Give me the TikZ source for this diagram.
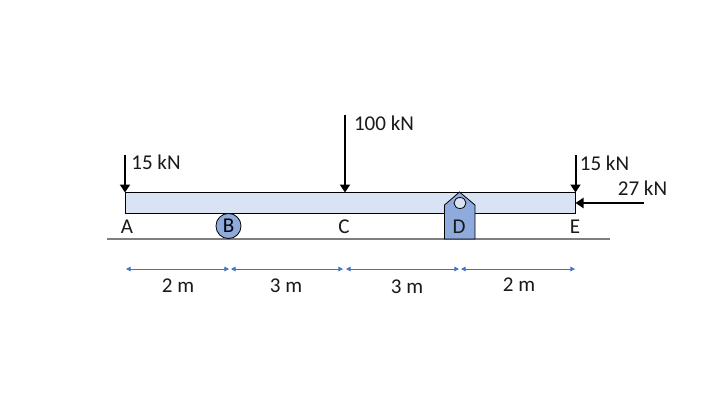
\documentclass[tikz,border=0pt]{standalone}
\usepackage{fontspec}
\setmainfont{Carlito}
\usetikzlibrary{arrows.meta}
\definecolor{beamfill}{HTML}{DAE3F3}
\definecolor{suppfill}{HTML}{8FAADC}
\definecolor{dimblue}{HTML}{4472C4}
\definecolor{groundgray}{HTML}{7F7F7F}
\begin{document}
\begin{tikzpicture}[x=0.75pt,y=-0.75pt]
    \tikzset{txt/.style = {font=\fontsize{15.8}{18}\selectfont,inner sep=0pt,text=black!90}}
    \tikzset{load/.style = {-{Triangle[length=6pt,width=7.5pt]},line width=1.5pt}}
    \tikzset{dim/.style = {{Triangle[length=3.5pt,width=3.5pt]}-{Triangle[length=3.5pt,width=3.5pt]},dimblue,line width=0.7pt}}
    \tikzset{roller/.style = {shape=circle,draw,fill=suppfill,line width=0.6pt,minimum size=18.8pt,inner sep=0pt,font=\fontsize{15.8}{18}\selectfont}}
    \useasboundingbox (0,0) rectangle (720,405);
    % beam and ground
    \draw[fill=beamfill,line width=0.75pt] (125.5,192.5) rectangle (575.5,213.5);
    \coordinate (gl) at (107,239);
    \coordinate (gr) at (610,239);
    \draw[groundgray,line width=1.2pt] (gl) -- (gr);
    % supports
    \node[roller] (B) at (228.5,226) {B};
    \draw[fill=suppfill,line width=0.6pt] (444.5,205) -- (459.5,192) -- (475,205) -- (475,239) -- (444.5,239) -- cycle;
    \draw[fill=beamfill,line width=0.6pt] (460,203) ellipse (6 and 5.5);
    \node[txt] (D) at (459,227) {D};
    % point labels
    \node[txt] (A) at (127,227) {A};
    \node[txt] (C) at (344,227) {C};
    \node[txt] (E) at (575,227) {E};
    % loads
    \coordinate (a0) at (125,155);
    \coordinate (a1) at (125,192.5);
    \coordinate (c0) at (345,115);
    \coordinate (c1) at (345,192.5);
    \coordinate (e0) at (575.5,155);
    \coordinate (e1) at (575.5,192.5);
    \coordinate (f0) at (644,203);
    \coordinate (f1) at (575.5,203);
    \draw[load] (a0) -- (a1);
    \draw[load] (c0) -- (c1);
    \draw[load] (e0) -- (e1);
    \draw[load] (f0) -- (f1);
    \node[txt] (la) at (156,162.5) {15 kN};
    \node[txt] (lc) at (384,123.5) {100 kN};
    \node[txt] (le) at (604.5,163.5) {15 kN};
    \node[txt] (lf) at (642.5,188.5) {27 kN};
    % dimensions
    \coordinate (d0) at (126,269);
    \coordinate (d1) at (229,269);
    \coordinate (d2) at (231,269);
    \coordinate (d3) at (343,269);
    \coordinate (d4) at (346,269);
    \coordinate (d5) at (459,269);
    \coordinate (d6) at (461,269);
    \coordinate (d7) at (575,269);
    \draw[dim] (d0) -- (d1);
    \draw[dim] (d2) -- (d3);
    \draw[dim] (d4) -- (d5);
    \draw[dim] (d6) -- (d7);
    \node[txt] (l1) at (178,286) {2 m};
    \node[txt] (l2) at (286,286) {3 m};
    \node[txt] (l3) at (407,286.5) {3 m};
    \node[txt] (l4) at (519,284.5) {2 m};
\end{tikzpicture}
\end{document}
